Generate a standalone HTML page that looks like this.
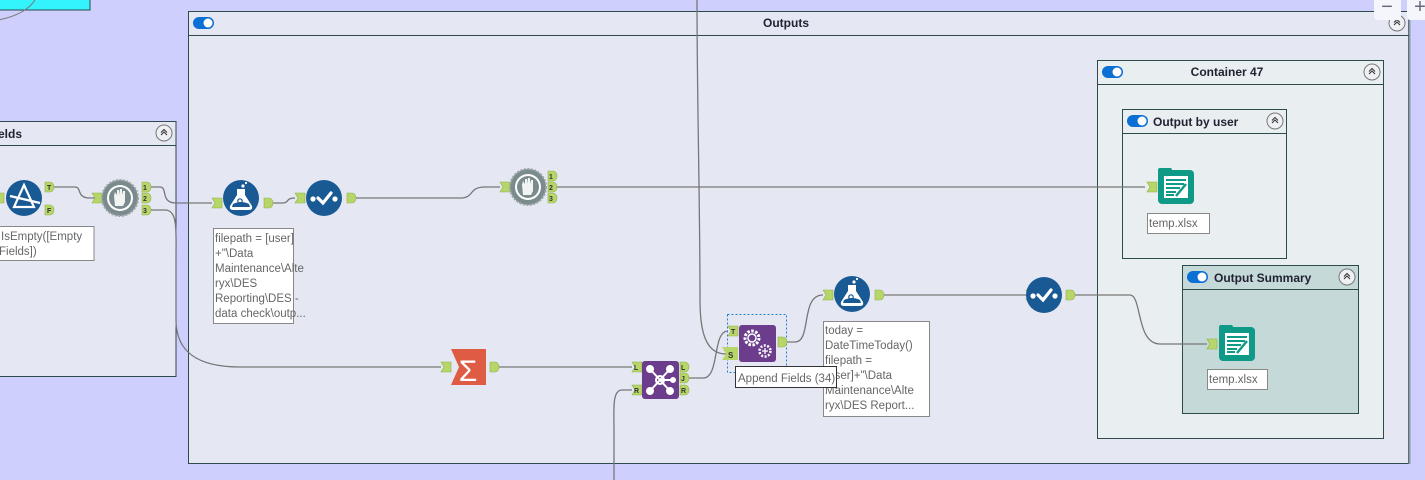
<!DOCTYPE html>
<html><head><meta charset="utf-8"><style>
html,body{margin:0;padding:0;width:1425px;height:480px;overflow:hidden;background:#cfcffd}
svg{display:block}
text{font-family:"Liberation Sans",sans-serif}
</style></head><body>
<svg width="1425" height="480" viewBox="0 0 1425 480" xmlns="http://www.w3.org/2000/svg">
<defs>
<g id="tog"><rect x="0" y="0" width="21" height="12" rx="6" fill="#0b6fd4"/><circle cx="15" cy="6" r="4.5" fill="#fff"/></g>
<g id="col"><circle cx="0" cy="0" r="8" fill="#eef0f4" stroke="#777" stroke-width="1"/><path d="M-3,2 L0,-1 L3,2 M-3,-0.5 L0,-3.5 L3,-0.5" stroke="#333" stroke-width="1" fill="none"/></g>
<g id="inA"><path d="M-5,-5 L5,-5 L5,5 L-5,5 L-2,0 Z" fill="#b7d66a" stroke="#93b04a" stroke-width="0.6"/></g>
<g id="outA"><path d="M-4,-5 L1,-5 A4,5 0 0 1 1,5 L-4,5 Z" fill="#b7d66a" stroke="#93b04a" stroke-width="0.6"/></g>
<g id="flask"><circle r="18" fill="#195a94"/><path d="M-4,-9 L4,-9 L4,-3 L11,8 Q12,12 8,12 L-8,12 Q-12,12 -11,8 L-4,-3 Z" fill="#fff"/><path d="M-8,6 Q0,2 8,6 L9,9 L-9,9 Z" fill="#195a94"/><circle cx="-1" cy="3" r="2.2" fill="none" stroke="#195a94" stroke-width="1.2"/><circle cx="2" cy="-12" r="1.6" fill="#fff"/><circle cx="5" cy="-15" r="1.1" fill="#fff"/></g>
<g id="check"><circle r="18" fill="#195a94"/><circle cx="-11" cy="1" r="2.6" fill="#fff"/><circle cx="11" cy="1" r="2.6" fill="#fff"/><path d="M-6,0 L-1,5 L7,-5" stroke="#fff" stroke-width="3.2" fill="none" stroke-linecap="round"/></g>
<g id="hand"><circle r="18" fill="#7b8a8c" stroke="#9aa5a6" stroke-width="2" stroke-dasharray="2 1.5"/><circle r="13" fill="#fff"/><circle r="11" fill="#7b8a8c"/><path d="M-5,8 L-6,-2 L-5,-6 L-3,-3 L-3,-8 L-1,-8 L-1,-3 L0,-9 L2,-9 L2,-3 L3,-7 L5,-7 L5,4 L3,8 Z" fill="#fff" opacity="0.9"/></g>
<g id="outF"><rect x="-18" y="-17" width="36" height="34" rx="4" fill="#0f9a87"/><rect x="-18" y="-19" width="14" height="6" rx="2" fill="#0f9a87"/><rect x="-12" y="-11" width="24" height="22" fill="#fff"/><path d="M-10,-7 H10 M-10,-3 H8 M-10,1 H4 M-10,5 H0 M-10,8 H-2" stroke="#0f9a87" stroke-width="2"/><path d="M0,9 L10,-3" stroke="#0f9a87" stroke-width="2.5"/></g>
</defs>

<rect x="-2" y="-2" width="92" height="12" fill="#33f3fd" stroke="#2d4a4d" stroke-width="1"/>
<path d="M35,0 Q25,15 -2,20" stroke="#777" fill="none"/>

<rect x="-2" y="121.5" width="178" height="255" fill="#e5e8f3" stroke="#2d4a4d" stroke-width="1"/>
<line x1="-2" y1="145.5" x2="176" y2="145.5" stroke="#2d4a4d"/>
<text x="-2" y="138" font-size="12" font-weight="bold" fill="#223">elds</text>
<use href="#col" x="164" y="133"/>

<rect x="188.5" y="11.5" width="1220" height="452" fill="#e5e8f3" stroke="#2d4a4d" stroke-width="1"/>
<line x1="1409.5" y1="12" x2="1409.5" y2="464" stroke="#8a98a8" stroke-width="2"/>
<line x1="188" y1="35.5" x2="1409" y2="35.5" stroke="#2d4a4d"/>
<use href="#tog" x="193" y="17"/>
<text x="786" y="27" font-size="12" font-weight="bold" fill="#223" text-anchor="middle">Outputs</text>
<use href="#col" x="1397" y="23"/>
<rect x="1374" y="-4" width="27" height="24" rx="3" fill="#f4f6fb"/>
<text x="1387" y="13" font-size="20" fill="#667" text-anchor="middle">−</text>
<rect x="1407" y="-4" width="22" height="24" rx="3" fill="#f4f6fb"/>
<text x="1420" y="13" font-size="20" fill="#667" text-anchor="middle">+</text>

<rect x="1097.5" y="60.5" width="286" height="378" fill="#e9eef0" stroke="#2d4a4d"/>
<line x1="1097" y1="84.5" x2="1384" y2="84.5" stroke="#2d4a4d"/>
<use href="#tog" x="1102" y="66"/>
<text x="1227" y="76" font-size="12" font-weight="bold" fill="#223" text-anchor="middle">Container 47</text>
<use href="#col" x="1372" y="72"/>

<rect x="1122.5" y="109.5" width="164" height="149" fill="#e9eef0" stroke="#2d4a4d"/>
<line x1="1122" y1="133.5" x2="1287" y2="133.5" stroke="#2d4a4d"/>
<use href="#tog" x="1127" y="115"/>
<text x="1153" y="126" font-size="12" font-weight="bold" fill="#223">Output by user</text>
<use href="#col" x="1275" y="121"/>

<rect x="1182.5" y="265.5" width="176" height="148" fill="#c5d9d9" stroke="#2d4a4d"/>
<line x1="1182" y1="289.5" x2="1359" y2="289.5" stroke="#2d4a4d"/>
<use href="#tog" x="1187" y="271"/>
<text x="1214" y="282" font-size="12" font-weight="bold" fill="#223">Output Summary</text>
<use href="#col" x="1347" y="277"/>

<g stroke="#777" stroke-width="1.3" fill="none">
<path d="M52,187 H75 C82,187 76,198 90,198 H95"/>
<path d="M148,187 H160 C168,187 160,203 176,203 H212"/>
<path d="M148,210 H165 C178,210 176,230 176,260 V320 C176,350 195,367 240,367 H441"/>
<path d="M270,203 H282 C290,203 285,198 295,198"/>
<path d="M353,198 H460 C475,198 468,187 485,187 H500"/>
<path d="M554,187 H1145"/>
<path d="M496,367 H632"/>
<path d="M632,390 H622 C612,390 614,410 614,430 V480"/>
<path d="M697,0 C697,100 700,200 700,300 C700,330 705,354 726,354"/>
<path d="M687,378 H703 C720,378 712,331 728,331"/>
<path d="M785,342 H795 C812,342 800,295 823,295"/>
<path d="M881,295 H1026"/>
<path d="M1073,295 H1130 C1142,295 1136,344 1160,344 H1207"/>
</g>

<use href="#inA" x="-1" y="198"/>
<circle cx="24" cy="198" r="18" fill="#195a94"/>
<path d="M24,185 L34,207 L14,207 Z M10,196 L40,203" stroke="#fff" stroke-width="2.2" fill="none"/>
<use href="#outA" x="49" y="187"/><text x="47" y="190" font-size="7" font-weight="bold" fill="#333">T</text>
<use href="#outA" x="49" y="210"/><text x="47" y="213" font-size="7" font-weight="bold" fill="#333">F</text>
<rect x="-2" y="226.5" width="96" height="34" fill="#fff" stroke="#888"/>
<text font-size="11.5" fill="#666"><tspan x="1" y="240">IsEmpty([Empty</tspan><tspan x="-1" y="255">Fields])</tspan></text>

<use href="#inA" x="97" y="198"/>
<use href="#hand" x="120" y="198"/>
<use href="#outA" x="146" y="187"/><text x="143" y="190" font-size="7" font-weight="bold" fill="#333">1</text>
<use href="#outA" x="146" y="198"/><text x="143" y="201" font-size="7" font-weight="bold" fill="#333">2</text>
<use href="#outA" x="146" y="210"/><text x="143" y="213" font-size="7" font-weight="bold" fill="#333">3</text>

<use href="#inA" x="217" y="203"/>
<use href="#flask" x="241" y="198"/>
<use href="#outA" x="268" y="203"/>
<rect x="213.5" y="228.5" width="80" height="95" fill="#fff" stroke="#888"/>
<text font-size="11.5" fill="#666"><tspan x="215" y="242">filepath = [user]</tspan><tspan x="215" y="257">+"\Data</tspan><tspan x="215" y="272">Maintenance\Alte</tspan><tspan x="215" y="287">ryx\DES</tspan><tspan x="215" y="302">Reporting\DES -</tspan><tspan x="215" y="317">data check\outp...</tspan></text>

<use href="#inA" x="300" y="198"/>
<use href="#check" x="324" y="198"/>
<use href="#outA" x="351" y="198"/>

<use href="#inA" x="505" y="187"/>
<use href="#hand" x="528" y="187"/>
<use href="#outA" x="552" y="176"/><text x="549" y="179" font-size="7" font-weight="bold" fill="#333">1</text>
<use href="#outA" x="552" y="187"/><text x="549" y="190" font-size="7" font-weight="bold" fill="#333">2</text>
<use href="#outA" x="552" y="198"/><text x="549" y="201" font-size="7" font-weight="bold" fill="#333">3</text>

<use href="#inA" x="446" y="367"/>
<path d="M451,349 H486 V385 H451 L459,367 Z" fill="#dd5c43"/>
<text x="468" y="381" font-size="30" fill="#fff" text-anchor="middle" font-family="Liberation Serif,serif">Σ</text>
<use href="#outA" x="494" y="367"/>

<use href="#inA" x="637" y="367"/><text x="634" y="370" font-size="7" font-weight="bold" fill="#333">L</text>
<use href="#inA" x="637" y="390"/><text x="634" y="393" font-size="7" font-weight="bold" fill="#333">R</text>
<rect x="642" y="361" width="37" height="38" rx="3" fill="#6b3d8c"/>
<g stroke="#fff" stroke-width="2" fill="#fff"><circle cx="660" cy="380" r="4" fill="none"/><line x1="660" y1="380" x2="650" y2="369"/><line x1="660" y1="380" x2="670" y2="369"/><line x1="660" y1="380" x2="650" y2="391"/><line x1="660" y1="380" x2="670" y2="391"/><line x1="660" y1="380" x2="673" y2="380"/><circle cx="650" cy="369" r="3"/><circle cx="670" cy="369" r="3"/><circle cx="650" cy="391" r="3"/><circle cx="670" cy="391" r="3"/><circle cx="673" cy="380" r="2"/></g>
<use href="#outA" x="684" y="367"/><text x="681" y="370" font-size="7" font-weight="bold" fill="#333">L</text>
<use href="#outA" x="684" y="378"/><text x="681" y="381" font-size="7" font-weight="bold" fill="#333">J</text>
<use href="#outA" x="684" y="390"/><text x="681" y="393" font-size="7" font-weight="bold" fill="#333">R</text>

<rect x="727.5" y="314.5" width="59" height="58" fill="none" stroke="#1e7fd0" stroke-dasharray="2 2"/>
<use href="#inA" x="733" y="331"/><text x="731" y="334" font-size="7" font-weight="bold" fill="#333">T</text>
<path d="M722,347 H738 V360 H722 L726,354 Z" fill="#b7d66a"/><text x="728" y="358" font-size="8" font-weight="bold" fill="#333">S</text>
<rect x="739" y="325" width="37" height="37" rx="3" fill="#6b3d8c"/>
<circle cx="752" cy="338" r="7" fill="none" stroke="#fff" stroke-width="3" stroke-dasharray="2.5 1.5"/>
<circle cx="752" cy="338" r="4" fill="none" stroke="#fff" stroke-width="1.5"/>
<circle cx="765" cy="351" r="5.5" fill="none" stroke="#fff" stroke-width="2.5" stroke-dasharray="2 1.5"/>
<path d="M762,351 H768 M765,348 V354" stroke="#fff" stroke-width="1.3"/>
<use href="#outA" x="782" y="342"/>

<use href="#inA" x="828" y="295"/>
<use href="#flask" x="852" y="294"/>
<use href="#outA" x="879" y="295"/>
<rect x="823.5" y="321.5" width="106" height="95" fill="#fff" stroke="#888"/>
<text font-size="11.5" fill="#666"><tspan x="825" y="334">today =</tspan><tspan x="825" y="349">DateTimeToday()</tspan><tspan x="825" y="364">filepath =</tspan><tspan x="825" y="379">[user]+"\Data</tspan><tspan x="825" y="394">Maintenance\Alte</tspan><tspan x="825" y="409">ryx\DES Report...</tspan></text>

<rect x="735.5" y="366.5" width="101" height="21" fill="#fff" stroke="#333"/>
<text x="738" y="382" font-size="11.5" fill="#666">Append Fields (34)</text>

<use href="#inA" x="1031" y="295"/>
<use href="#check" x="1044" y="295"/>
<use href="#outA" x="1070" y="295"/>

<use href="#inA" x="1152" y="187"/>
<use href="#outF" x="1176" y="187"/>
<rect x="1147.5" y="213.5" width="62" height="20" fill="#fff" stroke="#888"/>
<text x="1149" y="227" font-size="11.5" fill="#666">temp.xlsx</text>

<use href="#inA" x="1212" y="344"/>
<use href="#outF" x="1237" y="344"/>
<rect x="1207.5" y="369.5" width="60" height="20" fill="#fff" stroke="#888"/>
<text x="1209" y="383" font-size="11.5" fill="#666">temp.xlsx</text>
</svg>
</body></html>
